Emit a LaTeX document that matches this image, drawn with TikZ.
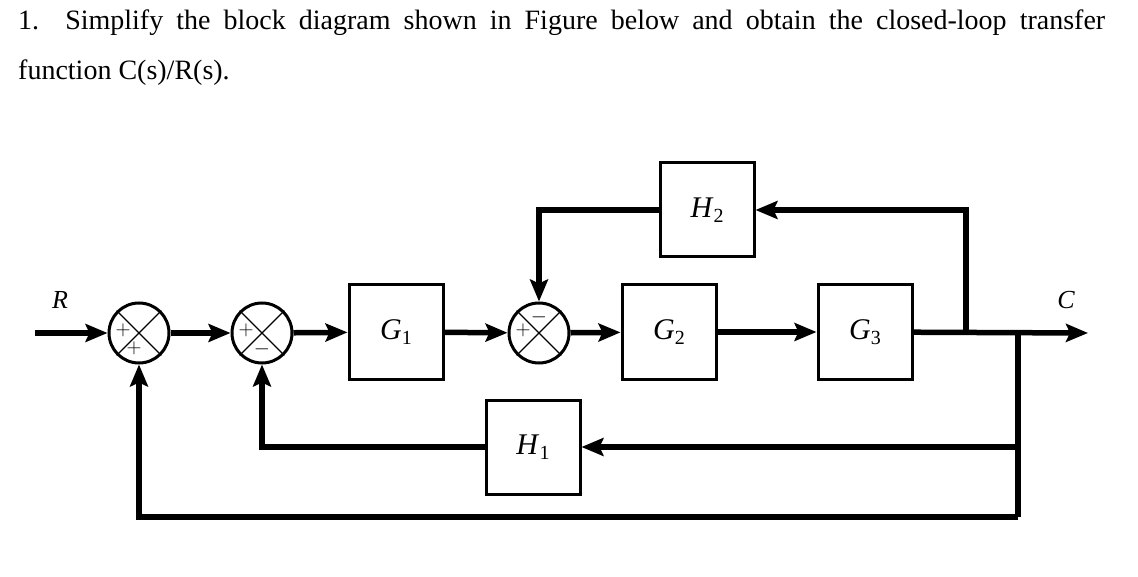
\documentclass[tikz,border=0pt]{standalone}
\usepackage{fontspec}
\setmainfont{Liberation Serif}
\usetikzlibrary{arrows.meta,calc}
\newcommand{\bname}[2]{\textit{#1}\raisebox{-5pt}{\fontsize{20}{22}\selectfont #2}}
\tikzset{
  blk/.style={draw,line width=3pt,minimum width=94pt,minimum height=94pt,font=\fontsize{30}{34}\selectfont},
  sum/.style={draw,circle,line width=3pt,minimum size=60pt,inner sep=0pt},
  sig/.style={line width=5.5pt,-{Stealth[length=22pt,width=18pt,inset=4pt]}},
  wire/.style={line width=5.5pt},
  sgn/.style={font=\fontsize{22}{24}\selectfont,inner sep=0pt},
  lbl/.style={font=\fontsize{26}{30}\selectfont\itshape}
}
\begin{document}
\begin{tikzpicture}[x=1pt,y=-1pt]
  \useasboundingbox (0,0) rectangle (1138,577);
  % question text
  \node[anchor=base west,inner sep=0pt,font=\fontsize{28}{32}\selectfont] (q1) at (18,30)
    {\hbox to 1087pt{1.\ \ Simplify the block diagram shown in Figure below and obtain the closed-loop transfer}};
  \node[anchor=base west,inner sep=0pt,font=\fontsize{28}{32}\selectfont] (q2) at (18,80) {function C(s)/R(s).};

  % summing points and blocks
  \node[sum] (s1) at (139,333) {};
  \node[sum] (s2) at (262,333) {};
  \node[sum] (s3) at (539,333) {};
  \node[blk] (g1) at (396,332) {\bname{G}{1}};
  \node[blk] (g2) at (669,332) {\bname{G}{2}};
  \node[blk] (g3) at (865,332) {\bname{G}{3}};
  \node[blk] (h2) at (707,210) {\bname{H}{2}};
  \node[blk] (h1) at (533,447) {\bname{H}{1}};
  \foreach \s in {s1,s2,s3}{
    \draw[line width=1.2pt] (\s.north west) -- (\s.south east)
      (\s.north east) -- (\s.south west);
  }
  \node[sgn] (p1) at ($(s1)+(-16,-3)$) {$+$};
  \node[sgn] (p2) at ($(s1)+(-5,15)$) {$+$};
  \node[sgn] (p3) at ($(s2)+(-16,-3)$) {$+$};
  \node[sgn] (m1) at ($(s2)+(0,16)$) {$-$};
  \node[sgn] (p4) at ($(s3)+(-16,-3)$) {$+$};
  \node[sgn] (m2) at ($(s3)+(0,-16)$) {$-$};

  % forward path
  \coordinate (in) at (35,333);
  \coordinate (out) at (1088,333);
  \coordinate (b1) at (966,333);
  \coordinate (b2) at (1018,333);
  \node[lbl] (r) at (60,300) {R};
  \node[lbl] (c) at (1066,300) {C};
  \draw[sig] (in) -- (s1);
  \draw[sig] (s1) -- (s2);
  \draw[sig] (s2) -- (g1);
  \draw[sig] (g1) -- (s3);
  \draw[sig] (s3) -- (g2);
  \draw[sig] (g2) -- (g3);
  \draw[sig] (g3) -- (out);

  % feedback loops
  \draw[sig] (b1) |- (h2);
  \draw[sig] (h2) -| (s3);
  \draw[wire] (b2) -- ++(0,184);
  \draw[sig] (b2 |- h1) -- (h1);
  \draw[sig] (h1) -| (s2);
  \draw[sig] ($(b2)+(0,184)$) -| (s1);
\end{tikzpicture}
\end{document}
